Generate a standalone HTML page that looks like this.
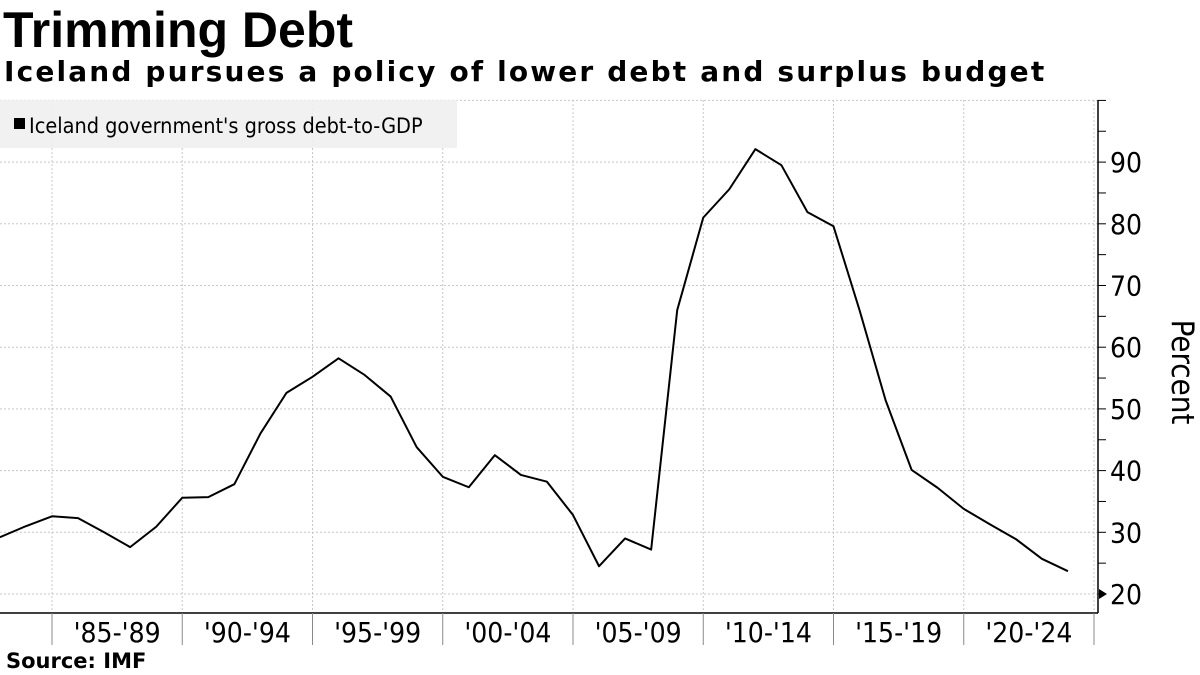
<!DOCTYPE html>
<html><head><meta charset="utf-8"><style>
body{margin:0;background:#fff;width:1200px;height:675px;overflow:hidden;font-family:"Liberation Sans",sans-serif}
#title{position:absolute;left:3px;top:1px;font-size:50px;font-weight:bold;color:#000}
#sub{position:absolute;left:4px;top:55px;font-family:"DejaVu Sans",sans-serif;font-size:28px;font-weight:bold;color:#000;letter-spacing:2.15px;white-space:nowrap}
svg{position:absolute;left:0;top:0}
text{font-family:"DejaVu Sans Condensed","DejaVu Sans",sans-serif}
</style></head><body>
<div id="title">Trimming Debt</div>
<div id="sub">Iceland pursues a policy of lower debt and surplus budget</div>
<svg id="c" width="1200" height="675"></svg>
<script>
const years=[1983,1984,1985,1986,1987,1988,1989,1990,1991,1992,1993,1994,1995,1996,1997,1998,1999,2000,2001,2002,2003,2004,2005,2006,2007,2008,2009,2010,2011,2012,2013,2014,2015,2016,2017,2018,2019,2020,2021,2022,2023,2024];
const debt=[29.2,31,32.6,32.3,30,27.6,30.9,35.6,35.7,37.8,46,52.6,55.2,58.2,55.5,52,43.8,39,37.3,42.5,39.3,38.2,32.8,24.5,29,27.2,66,81,85.6,92.1,89.5,81.9,79.6,66,51.4,40.1,37.2,33.8,31.3,28.9,25.7,23.7];
const yTicks=[20,30,40,50,60,70,80,90];
const xLabels=["'85-'89","'90-'94","'95-'99","'00-'04","'05-'09","'10-'14","'15-'19","'20-'24"];
const xLabelStarts=[1985,1990,1995,2000,2005,2010,2015,2020];
const NS="http://www.w3.org/2000/svg",svg=document.getElementById('c');
const X=y=>52+(y-1985)*26.05, Y=v=>594-(v-20)*6.17;
function el(t,a,p){const e=document.createElementNS(NS,t);for(const k in a)e.setAttribute(k,a[k]);(p||svg).appendChild(e);return e;}
yTicks.concat([100]).forEach(v=>{const g=el('line',{x1:0,x2:1098,y1:Y(v),y2:Y(v),stroke:'#c8c8c8','stroke-dasharray':'2,2'});

});
xLabelStarts.concat([2025]).forEach(y=>{const g=el('line',{x1:X(y),x2:X(y),y1:100,y2:613,stroke:'#c8c8c8','stroke-dasharray':'2,2'});

});
const lg=el('g',{});


el('rect',{x:0,y:100,width:457,height:48,fill:'#f0f0f0','fill-opacity':0.9},lg);
el('rect',{x:14,y:118,width:11,height:11,fill:'#000'},lg);
const lt=el('text',{x:29,y:133,'font-size':21.5,fill:'#000'},lg);lt.textContent="Iceland government's gross debt-to-GDP";
const ya=el('line',{x1:1098,x2:1098,y1:100,y2:613,stroke:'#000','stroke-width':1.5});


const xa=el('line',{x1:0,x2:1098,y1:613,y2:613,stroke:'#000','stroke-width':1.5});


for(let v=20;v<=100;v+=5){el('line',{x1:1098,x2:1106,y1:Y(v),y2:Y(v),stroke:'#000'});}
yTicks.forEach(v=>{const t=el('text',{x:1110,y:Y(v)+10,'font-size':28,fill:'#000'});t.textContent=v;

});
el('path',{d:`M1099,${Y(20)-5} L1107,${Y(20)} L1099,${Y(20)+5}Z`,fill:'#000'});
xLabelStarts.concat([2025]).forEach(y=>el('line',{x1:X(y),x2:X(y),y1:613,y2:645,stroke:'#888'}));
xLabels.forEach((l,i)=>{const t=el('text',{x:X(xLabelStarts[i]+2.5),y:642,'font-size':28,'text-anchor':'middle',fill:'#000'});t.textContent=l;

});
const yt=el('text',{x:0,y:0,'font-size':31,'text-anchor':'middle',fill:'#000',transform:'translate(1172,372) rotate(90)'});yt.textContent='Percent';


const ln=el('polyline',{points:years.map((y,i)=>X(y)+','+Y(debt[i])).join(' '),fill:'none',stroke:'#000','stroke-width':2,'stroke-linejoin':'round'});


const src=el('text',{x:6,y:668,'font-size':21,'font-weight':'bold',fill:'#000',style:'font-family:"DejaVu Sans",sans-serif'});src.textContent='Source: IMF';


</script>
</body></html>
